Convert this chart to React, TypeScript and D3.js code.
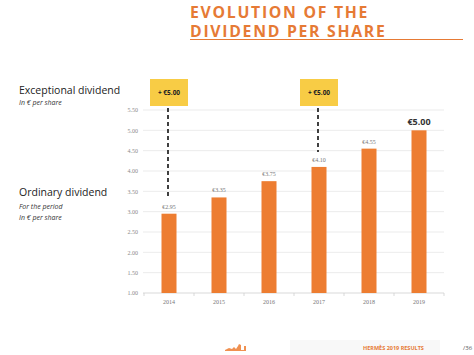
import React from "react";
import * as d3 from "d3";

const years = ["2014", "2015", "2016", "2017", "2018", "2019"];
const ordinary = [2.95, 3.35, 3.75, 4.1, 4.55, 5.0];
const valueLabels = ["€2.95", "€3.35", "€3.75", "€4.10", "€4.55", "€5.00"];
const exceptionalYears = ["2014", "2017"];
const exceptionalLabels = ["+ €5.00", "+ €5.00"];
const yTicks = [1.0, 1.5, 2.0, 2.5, 3.0, 3.5, 4.0, 4.5, 5.0, 5.5];

const W = 474;
const H = 355;
const ORANGE = "#ED7D31";
const TITLE = "#E67A35";
const YELLOW = "#F8CC45";

export default function App() {
  const x = d3.scaleBand<string>().domain(years).range([144, 444]).paddingInner(0.7).paddingOuter(0.35);
  const y = d3.scaleLinear().domain([1, 5.5]).range([293, 110]);
  const font = "'Open Sans', 'Noto Sans', sans-serif";

  return (
    <svg width={W} height={H} style={{ position: "absolute", left: 0, top: 0, background: "#fff" }} fontFamily={font}>
      <rect x={0} y={0} width={W} height={H} fill="#fff" />
      {/* Title */}
      <text x={190} y={17.5} fill={TITLE} fontSize={15.8} fontWeight={700} letterSpacing={1.7}>EVOLUTION OF THE</text>
      <text x={190} y={36.5} fill={TITLE} fontSize={15.8} fontWeight={700} letterSpacing={1.7}>DIVIDEND PER SHARE</text>
      <line x1={190} x2={463} y1={39.5} y2={39.5} stroke={TITLE} strokeWidth={1.2} />

      {/* Left labels */}
      <text x={19} y={94} fontSize={10.5} fill="#222">Exceptional dividend</text>
      <text x={19} y={105} fontSize={7} fontStyle="italic" fill="#333">In € per share</text>
      <text x={19} y={196} fontSize={10.5} fill="#222">Ordinary dividend</text>
      <text x={19} y={209} fontSize={7} fontStyle="italic" fill="#333">For the period</text>
      <text x={19} y={220} fontSize={7} fontStyle="italic" fill="#333">In € per share</text>

      {/* Grid and y ticks */}
      {yTicks.map((t) => (
        <g key={t}>
          <line x1={143} x2={444} y1={y(t)} y2={y(t)} stroke={t === 1 ? "#cfcfcf" : "#e6e6e6"} strokeWidth={0.8} />
          <text x={138} y={y(t) + 2.3} fontSize={6} fill="#8a8a8a" textAnchor="end" fontFamily="'Liberation Serif', serif">
            {t.toFixed(2)}
          </text>
        </g>
      ))}
      {years.map((yr, i) => (
        <line key={"tk" + yr} x1={144 + i * 50} x2={144 + i * 50} y1={293} y2={296} stroke="#cfcfcf" strokeWidth={0.8} />
      ))}
      <line x1={444} x2={444} y1={293} y2={296} stroke="#cfcfcf" strokeWidth={0.8} />

      {/* Bars */}
      {years.map((yr, i) => (
        <g key={yr}>
          <rect x={x(yr)} y={y(ordinary[i])} width={x.bandwidth()} height={y(1) - y(ordinary[i])} fill={ORANGE} />
          {i === years.length - 1 ? (
            <text x={x(yr)! + x.bandwidth() / 2} y={y(ordinary[i]) - 5} fontSize={9} fontWeight={700} fill="#333" textAnchor="middle">
              {valueLabels[i]}
            </text>
          ) : (
            <text x={x(yr)! + x.bandwidth() / 2} y={y(ordinary[i]) - 5} fontSize={6} fill="#777" textAnchor="middle" fontFamily="'Liberation Serif', serif">
              {valueLabels[i]}
            </text>
          )}
          <text x={x(yr)! + x.bandwidth() / 2} y={304} fontSize={6} fill="#777" textAnchor="middle" fontFamily="'Liberation Serif', serif">
            {yr}
          </text>
        </g>
      ))}

      {/* Exceptional boxes */}
      {exceptionalYears.map((yr, k) => {
        const i = years.indexOf(yr);
        const cx = x(yr)! + x.bandwidth() / 2;
        const top = y(ordinary[i]) - 15;
        return (
          <g key={"ex" + yr}>
            <rect x={cx - 19} y={79} width={38} height={27} fill={YELLOW} />
            <text x={cx} y={95} fontSize={6.5} fontWeight={700} fill="#222" textAnchor="middle">
              {exceptionalLabels[k]}
            </text>
            <line x1={cx - 1} x2={cx - 1} y1={108} y2={top} stroke="#111" strokeWidth={1.6} strokeDasharray="4,3" />
          </g>
        );
      })}

      {/* Footer */}
      <rect x={290} y={340} width={150} height={15} fill="#f8f8f8" />
      <g transform="translate(225,342)" fill={ORANGE}>
        <path d="M0,8 L4,6 L7,7 L9,5 L11,7 L13,4 L14,2 L16,3 L16,8 L19,8 L19,4 L21,4 L21,9 L0,9 Z" opacity={0.85} />
      </g>
      <text x={363} y={350} fontSize={5.5} fontWeight={700} fill={TITLE}>HERMÈS 2019 RESULTS</text>
      <text x={463} y={350} fontSize={6} fill="#555">/36</text>
    </svg>
  );
}
